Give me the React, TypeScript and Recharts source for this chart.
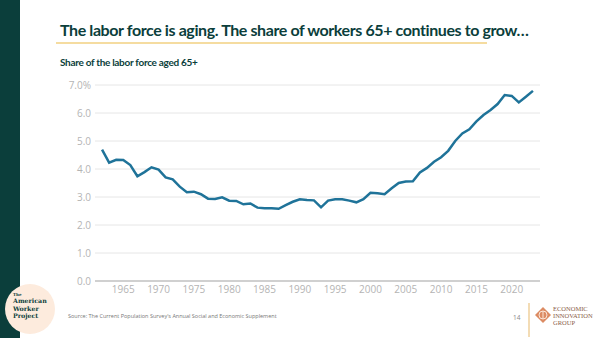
import React from 'react';
import { LineChart, Line, XAxis, YAxis, CartesianGrid } from 'recharts';

// survey years 1962..2023
const years = [
    1962, 1963, 1964, 1965, 1966, 1967, 1968, 1969, 1970, 1971,
    1972, 1973, 1974, 1975, 1976, 1977, 1978, 1979, 1980, 1981,
    1982, 1983, 1984, 1985, 1986, 1987, 1988, 1989, 1990, 1991,
    1992, 1993, 1994, 1995, 1996, 1997, 1998, 1999, 2000, 2001,
    2002, 2003, 2004, 2005, 2006, 2007, 2008, 2009, 2010, 2011,
    2012, 2013, 2014, 2015, 2016, 2017, 2018, 2019, 2020, 2021,
    2022, 2023,
];

// share of labor force aged 65+, in %
const share65 = [
    4.69, 4.23, 4.33, 4.32, 4.14, 3.74, 3.89, 4.06, 3.98, 3.70,
    3.63, 3.37, 3.17, 3.19, 3.10, 2.94, 2.93, 2.99, 2.87, 2.86,
    2.74, 2.77, 2.62, 2.60, 2.60, 2.58, 2.71, 2.83, 2.92, 2.89,
    2.88, 2.63, 2.87, 2.92, 2.92, 2.87, 2.81, 2.92, 3.15, 3.13,
    3.10, 3.31, 3.50, 3.55, 3.56, 3.88, 4.04, 4.26, 4.42, 4.65,
    5.00, 5.27, 5.42, 5.70, 5.93, 6.11, 6.32, 6.64, 6.61, 6.38,
    6.58, 6.79,
];

const xTicks = [1965, 1970, 1975, 1980, 1985, 1990, 1995, 2000, 2005, 2010, 2015, 2020];
const yTicks = [0, 1, 2, 3, 4, 5, 6, 7];

const data = years.map((year, i) => ({ year, share: share65[i] }));

const darkGreen = '#0b3e3b';
const tickStyle = { fontSize: 10, fill: '#b4b4b4', fontFamily: '"Open Sans", sans-serif' };

export default function App() {
    return (
        <div style={{ position: 'absolute', left: 0, top: 0, width: 600, height: 338, background: '#fff', overflow: 'hidden' }}>
            <div style={{ position: 'absolute', left: 0, top: 0, width: 20, height: 338, background: darkGreen }} />
            <div style={{
                position: 'absolute', left: 60, top: 20, fontFamily: 'Lato, sans-serif', fontWeight: 700,
                fontSize: 16, letterSpacing: -0.4, color: darkGreen, whiteSpace: 'nowrap',
            }}>
                The labor force is aging. The share of workers 65+ continues to grow…
            </div>
            <div style={{ position: 'absolute', left: 56, top: 42, width: 431, height: 2, background: '#f5dca0' }} />
            <div style={{
                position: 'absolute', left: 60, top: 56, fontFamily: 'Lato, sans-serif', fontWeight: 700,
                fontSize: 10, letterSpacing: -0.3, color: darkGreen, whiteSpace: 'nowrap',
            }}>
                Share of the labor force aged 65+
            </div>

            <div style={{ position: 'absolute', left: 0, top: 0 }}>
                <LineChart width={600} height={338} data={data} margin={{ top: 85, right: 60, left: 55, bottom: 27 }}>
                    <CartesianGrid vertical={false} stroke="#e6e6e6" strokeWidth={1} />
                    <XAxis
                        dataKey="year"
                        type="number"
                        domain={[1961, 2024]}
                        ticks={xTicks}
                        height={30}
                        tickLine={false}
                        tickSize={0}
                        tickMargin={5}
                        axisLine={{ stroke: '#c4c4c4', strokeWidth: 1.5 }}
                        tick={tickStyle}
                        interval={0}
                    />
                    <YAxis
                        width={40}
                        domain={[0, 7]}
                        ticks={yTicks}
                        axisLine={false}
                        tickLine={false}
                        tickSize={0}
                        tickMargin={4}
                        tick={tickStyle}
                        tickFormatter={(v: number) => (v === 7 ? `${v.toFixed(1)}%` : v.toFixed(1))}
                    />
                    <Line
                        type="linear"
                        dataKey="share"
                        stroke="#1f7399"
                        strokeWidth={2.5}
                        dot={false}
                        isAnimationActive={false}
                    />
                </LineChart>
            </div>

            {/* bottom-left badge */}
            <div style={{ position: 'absolute', left: 5, top: 284, width: 50, height: 50, borderRadius: '50%', background: '#fdebdd' }} />
            <div style={{
                position: 'absolute', left: 13, top: 292, fontFamily: '"DejaVu Serif", serif', fontWeight: 700,
                color: darkGreen, lineHeight: '7.5px', fontSize: 6.3,
            }}>
                <div style={{ fontSize: 4, lineHeight: '5px' }}>The</div>
                <div>American</div>
                <div>Worker</div>
                <div>Project</div>
            </div>

            <div style={{
                position: 'absolute', left: 68, top: 312, fontFamily: '"Open Sans", sans-serif',
                fontSize: 5.5, color: '#777', whiteSpace: 'nowrap',
            }}>
                Source: The Current Population Survey's Annual Social and Economic Supplement
            </div>
            <div style={{
                position: 'absolute', left: 513, top: 313, fontFamily: '"Open Sans", sans-serif',
                fontSize: 6.5, color: '#888',
            }}>
                14
            </div>
            <div style={{ position: 'absolute', left: 528, top: 303, width: 1.5, height: 34, background: '#f3dcb5' }} />
            <svg style={{ position: 'absolute', left: 535, top: 307 }} width={16} height={16}>
                <polygon points="8,0 16,8 8,16 0,8" fill="#dc8b63" />
                <circle cx={8} cy={8} r={4} fill="none" stroke="#fbe6d8" strokeWidth={1} />
                <line x1={8} y1={4} x2={8} y2={12} stroke="#fbe6d8" strokeWidth={1} />
            </svg>
            <div style={{
                position: 'absolute', left: 553, top: 305, fontFamily: '"Liberation Serif", serif',
                fontSize: 6.5, lineHeight: '7px', color: '#8a5d48', whiteSpace: 'nowrap',
            }}>
                <div>ECONOMIC</div>
                <div>INNOVATION</div>
                <div>GROUP</div>
            </div>
        </div>
    );
}
